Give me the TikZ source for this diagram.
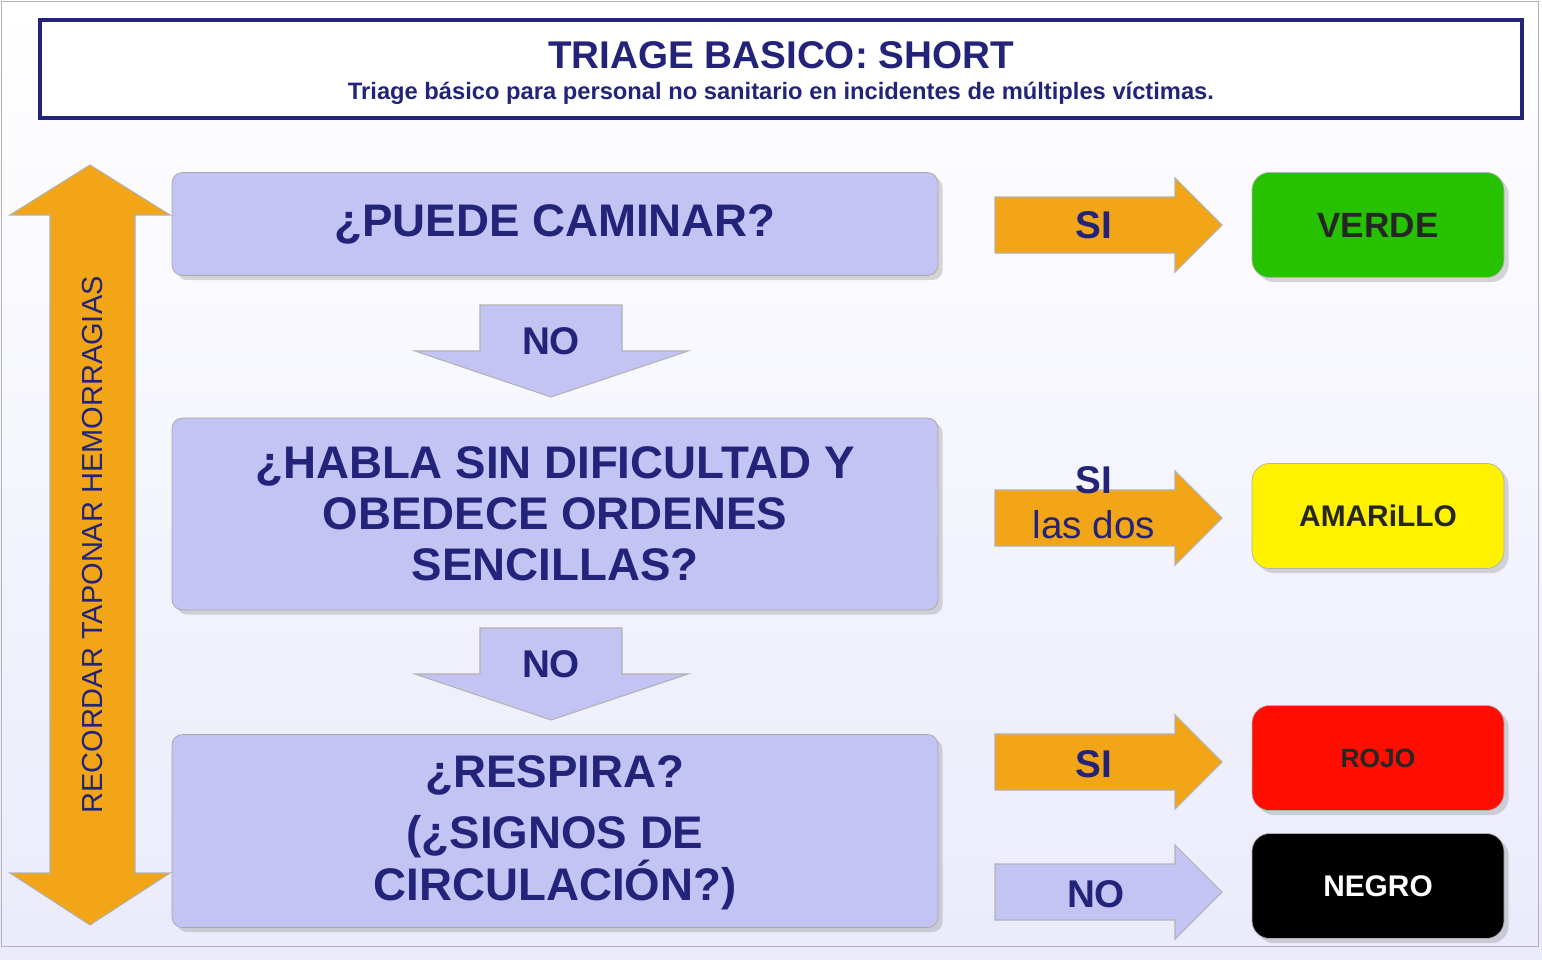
\documentclass[tikz,border=0pt]{standalone}
\usepackage{fontspec}
\setmainfont{Liberation Sans}
\usetikzlibrary{shadows}
\definecolor{navy}{HTML}{23237A}
\definecolor{lav}{HTML}{C4C4F4}
\definecolor{org}{HTML}{F2A516}
\tikzset{
 qbox/.style={draw=gray!70,rounded corners=6pt,fill=lav,drop shadow={opacity=0.3}},
 cbox/.style={draw=gray!60,rounded corners=10pt,drop shadow={opacity=0.3}},
 arr/.style={draw=gray!60,line width=0.6pt},
 big/.style={font=\fontsize{26}{31}\selectfont\bfseries,text=navy,align=center},
}
\begin{document}
\begin{tikzpicture}[x=0.02cm,y=-0.02cm]
\useasboundingbox (0,0) rectangle (1542,960);
\shade[top color=white,bottom color=lav!35] (0,0) rectangle (1542,960);
\draw[gray!60] (1,1) rectangle (1538,946);
% title
\node[draw=navy,line width=2pt,fill=white,minimum width=1482*0.02cm,minimum height=98*0.02cm] (title) at (781,69) {};
\node[font=\fontsize{22}{26}\selectfont\bfseries,text=navy] (t1) at (781,55) {TRIAGE BASICO: SHORT};
\node[font=\fontsize{13.5}{16}\selectfont\bfseries,text=navy] (t2) at (781,93) {Triage básico para personal no sanitario en incidentes de múltiples víctimas.};
% left double arrow
\path[arr,fill=org] (90,165) -- (170,215) -- (135,215) -- (135,873) -- (170,873) -- (90,925) -- (10,873) -- (50,873) -- (50,215) -- (10,215) -- cycle;
\node[rotate=90,font=\fontsize{16.5}{20}\selectfont,text=navy] (rec) at (93,545) {RECORDAR TAPONAR HEMORRAGIAS};
% question boxes
\node[qbox,minimum width=766*0.02cm,minimum height=103*0.02cm,big] (q1) at (555,224) {¿PUEDE CAMINAR?};
\node[qbox,minimum width=766*0.02cm,minimum height=192*0.02cm,big,font=\fontsize{26}{29}\selectfont\bfseries] (q2) at (555,514) {¿HABLA SIN DIFICULTAD Y\\OBEDECE ORDENES\\SENCILLAS?};
\node[qbox,minimum width=766*0.02cm,minimum height=193*0.02cm] (q3) at (555,831) {};
\node[big] (q3a) at (555,775) {¿RESPIRA?};
\node[big,font=\fontsize{26}{27}\selectfont\bfseries] (q3b) at (555,863) {(¿SIGNOS DE\\CIRCULACIÓN?)};
% down arrows
\foreach \y/\n in {305/d1,628/d2}{
 \path[arr,fill=lav] (480,\y) -- (622,\y) -- (622,\y+46) -- (688,\y+46) -- (551,\y+92) -- (415,\y+46) -- (480,\y+46) -- cycle;
 \node[big,font=\fontsize{22}{26}\selectfont\bfseries] (\n) at (551,\y+36) {NO};
}
% right arrows
\foreach \y/\c/\n in {225/org/r1,518/org/r2,762/org/r3,892/lav/r4}{
 \path[arr,fill=\c] (995,\y-28) -- (1175,\y-28) -- (1175,\y-47) -- (1222,\y) -- (1175,\y+47) -- (1175,\y+28) -- (995,\y+28) -- cycle;
}
\node[big,font=\fontsize{22}{26}\selectfont\bfseries] (s1) at (1094,225) {SI};
\node[big,font=\fontsize{22}{26}\selectfont\bfseries] (s2a) at (1094,480) {SI};
\node[big,font=\fontsize{22}{26}\selectfont] (s2b) at (1094,525) {las dos};
\node[big,font=\fontsize{22}{26}\selectfont\bfseries] (s3) at (1094,764) {SI};
\node[big,font=\fontsize{22}{26}\selectfont\bfseries] (s4) at (1096,894) {NO};
% colour boxes
\tikzset{cb/.style={cbox,minimum width=252*0.02cm,minimum height=105*0.02cm,font=\fontsize{20}{24}\selectfont\bfseries}}
\node[cb,fill=green!70!black!80!lime,text=black!85] (verde) at (1378,225) {VERDE};
\node[cb,fill=yellow,text=black!85,font=\fontsize{17}{20}\selectfont\bfseries] (amar) at (1378,516) {AMARiLLO};
\node[cb,fill=red!90!orange,text=black!85,font=\fontsize{15}{18}\selectfont\bfseries] (rojo) at (1378,758) {ROJO};
\node[cb,fill=black,text=white,font=\fontsize{17}{20}\selectfont\bfseries] (negro) at (1378,886) {NEGRO};
\end{tikzpicture}
\end{document}
